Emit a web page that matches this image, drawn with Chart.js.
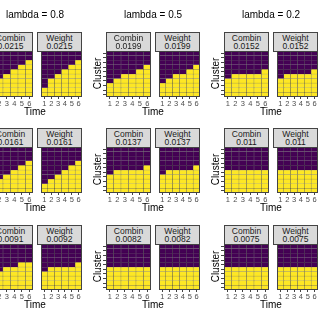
<!DOCTYPE html>
<html>
<head>
<meta charset="utf-8">
<script src="https://cdn.jsdelivr.net/npm/chart.js@4.4.0/dist/chart.umd.min.js"></script>
<style>
  html, body { margin: 0; padding: 0; background: #fff; }
  body { width: 320px; height: 320px; position: relative; overflow: hidden;
         font-family: "Liberation Sans", Arial, sans-serif; }
  canvas { position: absolute; }
  .strip { position: absolute; box-sizing: border-box; background: #d9d9d9; border: 1px solid #444;
           color: #1a1a1a; font-size: 8.5px; line-height: 8.3px; text-align: center; padding-top: 1px; }
  .label { position: absolute; color: #000; font-size: 10px; text-align: center; white-space: nowrap; }
</style>
</head>
<body>
<script>
// data
const timePoints = [1, 2, 3, 4, 5, 6];
const clusterCount = 10;
const lambdaLabels = ['lambda = 0.8', 'lambda = 0.5', 'lambda = 0.2'];
const methodLabels = ['Combin', 'Weight'];

// strip values, one row of the figure each (Combin, Weight per lambda)
const scoreRow1 = ['0.0215', '0.0215', '0.0199', '0.0199', '0.0152', '0.0152'];
const scoreRow2 = ['0.0161', '0.0161', '0.0137', '0.0137', '0.011', '0.011'];
const scoreRow3 = ['0.0091', '0.0092', '0.0082', '0.0082', '0.0075', '0.0075'];

// number of yellow cells (from the bottom) at each time point
const yellowRow1 = [[2, 4, 5, 6, 7, 8], [2, 4, 5, 6, 7, 8],
                    [3, 4, 5, 5, 6, 7], [3, 4, 5, 5, 6, 7],
                    [4, 5, 5, 5, 5, 6], [4, 5, 5, 5, 5, 6]];
const yellowRow2 = [[2, 3, 4, 5, 6, 7], [2, 3, 4, 5, 6, 7],
                    [4, 5, 5, 5, 5, 6], [4, 5, 5, 5, 5, 6],
                    [5, 5, 5, 5, 5, 5], [5, 5, 5, 5, 5, 5]];
const yellowRow3 = [[4, 4, 5, 5, 6, 6], [4, 5, 5, 5, 5, 6],
                    [5, 5, 5, 5, 5, 5], [5, 5, 5, 5, 5, 5],
                    [5, 5, 5, 5, 5, 5], [5, 5, 5, 5, 5, 5]];

const scores = [scoreRow1, scoreRow2, scoreRow3];
const yellows = [yellowRow1, yellowRow2, yellowRow3];

const PURPLE = '#440154';
const YELLOW = '#fde725';

// layout (pixels)
const groupRight = [33, 151, 269];   // right edge of first panel in each lambda group
const stripTop = [32, 128, 225];
const panelW = 45, panelGap = 4, stripH = 19, heatH = 46;
const xAxisH = 12, yAxisW = 4;

Chart.defaults.font.family = '"Liberation Sans", Arial, sans-serif';

// draws the panel frame
const frame = {
  id: 'frame',
  afterDatasetsDraw(chart) {
    const a = chart.chartArea, ctx = chart.ctx;
    ctx.save();
    ctx.strokeStyle = '#444';
    ctx.lineWidth = 1;
    ctx.strokeRect(Math.round(a.left) + 0.5, Math.round(a.top) + 0.5,
                   Math.round(a.right - a.left) - 1, Math.round(a.bottom - a.top) - 1);
    ctx.restore();
  }
};

function addDiv(cls, text, left, top, width, height) {
  const d = document.createElement('div');
  d.className = cls;
  d.innerHTML = text;
  d.style.left = left + 'px';
  d.style.top = top + 'px';
  d.style.width = width + 'px';
  if (height) d.style.height = height + 'px';
  document.body.appendChild(d);
  return d;
}

function makePanel(left, top, counts, withY) {
  const cv = document.createElement('canvas');
  cv.width = panelW + (withY ? yAxisW : 0);
  cv.height = heatH + xAxisH;
  cv.style.left = (left - (withY ? yAxisW : 0)) + 'px';
  cv.style.top = top + 'px';
  document.body.appendChild(cv);

  const datasets = [];
  for (let r = 0; r < clusterCount; r++) {
    datasets.push({
      data: timePoints.map(() => 1),
      backgroundColor: counts.map(c => (r < c ? YELLOW : PURPLE)),
      borderColor: 'rgba(0,0,0,0.5)',
      borderWidth: 0.5,
      barPercentage: 1,
      categoryPercentage: 1
    });
  }

  new Chart(cv, {
    type: 'bar',
    data: { labels: timePoints.map(String), datasets: datasets },
    options: {
      responsive: false,
      animation: false,
      layout: { padding: 0 },
      plugins: { legend: { display: false }, tooltip: { enabled: false } },
      scales: {
        x: {
          stacked: true,
          grid: { drawOnChartArea: false, offset: false, tickLength: 2, color: '#444' },
          border: { display: false },
          ticks: { font: { size: 7.5 }, color: '#4d4d4d', padding: 0, maxRotation: 0, autoSkip: false },
          afterFit: s => { s.height = xAxisH; }
        },
        y: {
          stacked: true,
          display: withY,
          min: 0,
          max: clusterCount,
          grid: { drawOnChartArea: false, tickLength: 3, color: '#444' },
          border: { display: false },
          ticks: { display: false },
          afterBuildTicks: s => {
            s.ticks = [];
            for (let r = 0; r < clusterCount; r++) s.ticks.push({ value: r + 0.5 });
          },
          afterFit: s => { s.width = yAxisW; }
        }
      }
    },
    plugins: [frame]
  });
}

for (let row = 0; row < 3; row++) {
  const top = stripTop[row];
  for (let g = 0; g < 3; g++) {
    const R = groupRight[g];
    const groupLeft = R - panelW;
    const groupCenter = (groupLeft + R + panelGap + panelW) / 2;
    for (let p = 0; p < 2; p++) {
      const col = g * 2 + p;
      const left = groupLeft + p * (panelW + panelGap);
      addDiv('strip', methodLabels[p] + '<br>' + scores[row][col], left, top, panelW, stripH + 1);
      makePanel(left, top + stripH, yellows[row][col], p === 0);
    }
    // Time axis title
    addDiv('label', 'Time', groupCenter - 30, top + stripH + heatH + 9, 60);
    // Cluster axis title
    const cl = addDiv('label', 'Cluster', groupLeft - 9 - 30, top + stripH + heatH / 2 - 6, 60);
    cl.style.transform = 'rotate(-90deg)';
    if (row === 0) addDiv('label', lambdaLabels[g], groupCenter - 50, 9, 100);
  }
}
</script>
</body>
</html>
